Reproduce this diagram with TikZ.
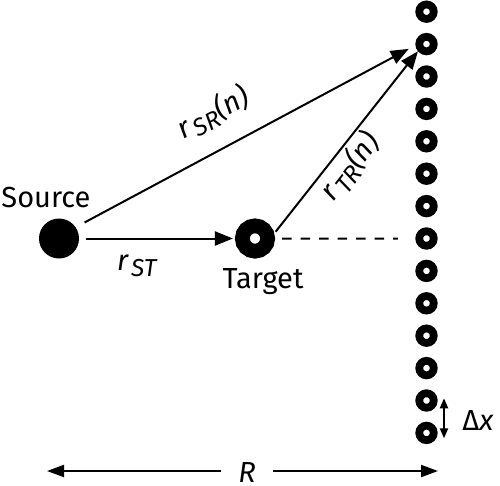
\documentclass[tikz,border=0pt]{standalone}
\usepackage{fontspec}
\setmainfont{Fira Sans}
\usetikzlibrary{arrows.meta}
\newcommand\mysub[1]{\hspace{2pt}\raisebox{-6pt}{\fontsize{24.5}{27}\selectfont #1}}
\begin{document}
\begin{tikzpicture}[x=1pt,y=-1pt,
  lbl/.style={font=\fontsize{29}{33}\selectfont, inner sep=0pt},
  arr/.style={line width=2pt, -{Triangle[length=18pt,width=14pt]}},
  smallarr/.style={line width=2pt, {Triangle[length=10pt,width=8pt]}-{Triangle[length=10pt,width=8pt]}},
  ring/.style={circle, draw, line width=7.8pt, minimum size=14.5pt, inner sep=0pt},
  bigring/.style={circle, draw, line width=14.7pt, minimum size=25.4pt, inner sep=0pt},
  src/.style={circle, fill, minimum size=40pt, inner sep=0pt}]
\path[use as bounding box] (0,0) rectangle (500,485);
% receiver array
\foreach \k in {0,...,13}{
  \node[ring] (R\k) at (426.5, 11.7+32.4*\k) {};
}
% source and target
\node[src] (S) at (59,238.5) {};
\node[bigring] (T) at (255,238.5) {};
\node[lbl, anchor=base] (Slab) at (46,207) {Source};
\node[lbl, anchor=base] (Tlab) at (263,288) {Target};
% connectors
\draw[arr, shorten <=7pt, shorten >=2pt] (S.east) -- (T.west);
\draw[arr, shorten <=10pt, shorten >=7.6pt] (S.34) -- (R1.186);
\draw[arr, shorten <=2pt] (T.15) -- (R1.220);
\draw[line width=2pt, dash pattern=on 9.5pt off 9pt, shorten <=7pt, shorten >=17.5pt] (T.east) -- (R7.west);
% labels
\node[lbl, anchor=base west] (rst) at (117,270) {\textit{r}\mysub{\textit{ST}}};
\node[lbl, rotate=28] (rsr) at (213,113) {\textit{r}\mysub{\textit{SR}\/}\textit{(n)}};
\node[lbl, rotate=52] (rtr) at (350,167) {\textit{r}\mysub{\textit{TR}\/}\textit{(n)}};
% delta x
\coordinate (dxa) at (444,398.3);
\coordinate (dxb) at (444,438.3);
\draw[smallarr] (dxa) -- (dxb);
\node[lbl] (dx) at (478,420) {Δ\textit{x}};
% R dimension
\node[lbl] (Rl) at (247,472) {\textit{R}};
\coordinate (Rleft) at (47,471);
\coordinate (Rright) at (438,471);
\draw[arr, -{Triangle[length=17pt,width=12pt]}, shorten <=17pt] (Rl.west |- Rleft) -- (Rleft);
\draw[arr, -{Triangle[length=17pt,width=12pt]}, shorten <=17pt] (Rl.east |- Rright) -- (Rright);
\end{tikzpicture}
\end{document}
